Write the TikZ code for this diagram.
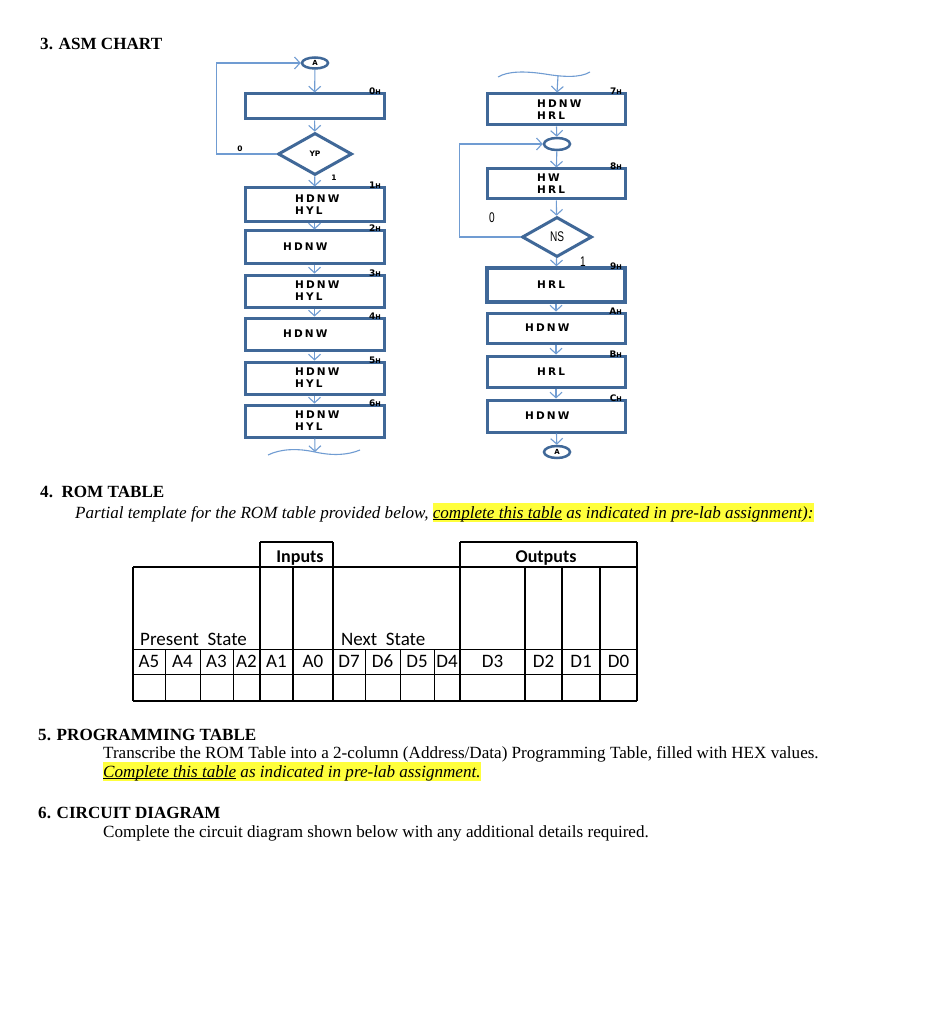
\documentclass[tikz,border=0pt]{standalone}
\usepackage{fontspec}
\setmainfont{Liberation Serif}
\newfontfamily\asmfont[LetterSpace=20]{DejaVu Sans}
\newfontfamily\asmplain{DejaVu Sans}
\newfontfamily\narrowfont[FakeStretch=0.72]{Liberation Sans}
\newfontfamily\calfont{Carlito}
\usetikzlibrary{arrows.meta,shapes.geometric}
\definecolor{boxblue}{RGB}{64,104,152}
\definecolor{lineblue}{RGB}{112,156,210}
\definecolor{hlyellow}{RGB}{255,255,60}
\newcommand\myul[1]{\setbox0\hbox{#1}\rlap{\rule[-2pt]{\wd0}{0.9pt}}\box0{}}
\newcommand\myhl[1]{\setbox0\hbox{#1}\rlap{\textcolor{hlyellow}{\rule[-4pt]{\wd0}{19pt}}}\box0{}}
\tikzset{
  asmbox/.style={draw=boxblue, line width=3pt, minimum width=139pt, inner sep=0pt},
  conn/.style={draw=lineblue, line width=1.1pt, -{Straight Barb[length=5.5pt,width=12pt]}},
  asmtxt/.style={font=\asmfont\bfseries\fontsize{10.5}{12}\selectfont, inner sep=0pt, align=left, anchor=west},
  addr/.style={font=\asmplain\bfseries\fontsize{9}{10}\selectfont, inner sep=0pt, anchor=base east},
  smalllbl/.style={font=\asmplain\bfseries\fontsize{7.5}{9}\selectfont, inner sep=0pt},
  narrowlbl/.style={font=\narrowfont\fontsize{14}{16}\selectfont, inner sep=0pt},
  tthick/.style={draw=black, line width=2pt},
  tthin/.style={draw=black, line width=1pt},
  celltxt/.style={font=\calfont\fontsize{19}{21}\selectfont, inner sep=0pt, anchor=base},
  head/.style={font=\bfseries\fontsize{17.1}{20}\selectfont, inner sep=0pt, anchor=base west},
  body/.style={font=\fontsize{17.1}{20}\selectfont, inner sep=0pt, anchor=base west},
}
\newcommand\hsub[1]{#1{\fontsize{6.5}{7}\selectfont H}}
\begin{document}
\begin{tikzpicture}[x=1pt,y=-1pt]
\fill[white] (0,0) rectangle (927,1024);
\useasboundingbox (0,0) rectangle (927,1024);

% ---------- headings ----------
\node[head] (h3) at (40,50) {3. ASM CHART};

% ---------- left ASM column ----------
\node[ellipse, draw=boxblue, line width=2.5pt, minimum width=26pt, minimum height=11pt, inner sep=0pt, font=\asmplain\bfseries\fontsize{7}{8}\selectfont] (eA) at (315,63) {A};
\node[asmbox, minimum height=25pt] (b0) at (314.5,106.5) {};
\node[diamond, draw=boxblue, line width=3pt, minimum width=74pt, minimum height=42pt, inner sep=0pt, font=\asmplain\bfseries\fontsize{7.5}{8}\selectfont] (d1) at (315,154) {YP};
\node[asmbox, minimum height=34pt] (b1) at (314.5,205) {};
\node[asmbox, minimum height=32pt] (b2) at (314.5,247) {};
\node[asmbox, minimum height=32pt] (b3) at (314.5,291) {};
\node[asmbox, minimum height=32pt] (b4) at (314.5,334) {};
\node[asmbox, minimum height=32pt] (b5) at (314.5,378) {};
\node[asmbox, minimum height=32pt] (b6) at (314.5,421) {};

\node[asmtxt] (t1) at (295,205) {HDNW\\HYL};
\node[asmtxt] (t2) at (283,247) {HDNW};
\node[asmtxt] (t3) at (295,291) {HDNW\\HYL};
\node[asmtxt] (t4) at (283,334) {HDNW};
\node[asmtxt] (t5) at (295,378) {HDNW\\HYL};
\node[asmtxt] (t6) at (295,421) {HDNW\\HYL};

\node[addr] (a0) at (381,95) {\hsub{0}};
\node[addr] (a1) at (381,189) {\hsub{1}};
\node[addr] (a2) at (381,232) {\hsub{2}};
\node[addr] (a3) at (381,276) {\hsub{3}};
\node[addr] (a4) at (381,319) {\hsub{4}};
\node[addr] (a5) at (381,363) {\hsub{5}};
\node[addr] (a6) at (381,406) {\hsub{6}};

\node[smalllbl] (l0) at (240,149) {0};
\node[smalllbl] (l1) at (334,178) {1};

\draw[conn] (eA) -- (b0);
\draw[conn] (b0) -- (d1);
\draw[conn] (d1) -- (b1);
\draw[conn] (b1) -- (b2);
\draw[conn] (b2) -- (b3);
\draw[conn] (b3) -- (b4);
\draw[conn] (b4) -- (b5);
\draw[conn] (b5) -- (b6);
\draw[conn] (d1.west) -- ++(-60,0) |- (eA.west);
\coordinate (w1) at (315,452);
\draw[conn] (b6) -- (w1);
\draw[draw=lineblue, line width=1.1pt] (268,455) .. controls (280,449) and (297,448) .. (315,452) .. controls (333,456) and (348,455) .. (360,450);

% ---------- right ASM column ----------
\coordinate (w2) at (558,76);
\draw[draw=lineblue, line width=1.1pt] (498,77) .. controls (508,71) and (525,71) .. (545,74) .. controls (563,77) and (580,78) .. (590,72);
\node[asmbox, minimum width=138pt, minimum height=31pt] (b7) at (556,109.5) {};
\node[ellipse, draw=boxblue, line width=2.5pt, minimum width=26pt, minimum height=12pt, inner sep=0pt] (e2) at (557,144) {};
\node[asmbox, minimum width=138pt, minimum height=30pt] (b8) at (556,184) {};
\node[diamond, draw=boxblue, line width=3pt, minimum width=70pt, minimum height=40pt, inner sep=0pt, font=\narrowfont\fontsize{14}{16}\selectfont] (d2) at (557,237) {NS};
\node[asmbox, minimum width=138pt, minimum height=34pt, line width=3.5pt] (b9) at (556,285) {};
\node[asmbox, minimum width=138pt, minimum height=30pt] (bA) at (556,328) {};
\node[asmbox, minimum width=138pt, minimum height=31pt] (bB) at (556,371.5) {};
\node[asmbox, minimum width=138pt, minimum height=32pt] (bC) at (556,416) {};
\node[ellipse, draw=boxblue, line width=2.5pt, minimum width=26pt, minimum height=12pt, inner sep=0pt, font=\asmplain\bfseries\fontsize{7}{8}\selectfont] (eB) at (557,452) {A};

\node[asmtxt] (t7) at (537,109.5) {HDNW\\HRL};
\node[asmtxt] (t8) at (537,184) {HW\\HRL};
\node[asmtxt] (t9) at (537,285) {HRL};
\node[asmtxt] (tA) at (525,328) {HDNW};
\node[asmtxt] (tB) at (537,371.5) {HRL};
\node[asmtxt] (tC) at (525,416) {HDNW};

\node[addr] (a7) at (622,95) {\hsub{7}};
\node[addr] (a8) at (622,170) {\hsub{8}};
\node[addr] (a9) at (622,269) {\hsub{9}};
\node[addr] (aA) at (622,314) {\hsub{A}};
\node[addr] (aB) at (622,357) {\hsub{B}};
\node[addr] (aC) at (622,401) {\hsub{C}};

\node[narrowlbl] (r0) at (492,218) {0};
\node[narrowlbl] (r1) at (583,262) {1};

\draw[conn] (w2) -- (b7);
\draw[conn] (b7) -- (e2);
\draw[conn] (e2) -- (b8);
\draw[conn] (b8) -- (d2);
\draw[conn] (d2) -- (b9);
\draw[conn] (b9) -- (bA);
\draw[conn] (bA) -- (bB);
\draw[conn] (bB) -- (bC);
\draw[conn] (bC) -- (eB);
\draw[conn] (d2.west) -- ++(-61,0) |- (e2.west);

% ---------- ROM table ----------
\node[head] (h4) at (40,497) {4.\ \ ROM TABLE};
\node[body] (p4) at (75,518) {\itshape Partial template for the ROM table provided below, \myhl{\myul{complete this table} as indicated in pre-lab assignment):}};

\draw[tthick] (260,542) -- (333,542);
\draw[tthick] (460,542) -- (637,542);
\draw[tthick] (133,567) -- (637,567);
\draw[tthin] (133,649) -- (637,649);
\draw[tthin] (133,674) -- (637,674);
\draw[tthick] (133,701) -- (637,701);
\foreach \x in {133,293,525,562,600} \draw[tthick] (\x,567) -- (\x,701);
\foreach \x in {260,333,460,637} \draw[tthick] (\x,542) -- (\x,701);
\foreach \x in {165,200,233,365,400,434} \draw[tthin] (\x,649) -- (\x,701);

\node[celltxt, font=\calfont\bfseries\fontsize{18}{20}\selectfont] (tin) at (300,562) {Inputs};
\node[celltxt, font=\calfont\bfseries\fontsize{18}{20}\selectfont] (tout) at (546,562) {Outputs};
\node[celltxt, anchor=base west] (tps) at (140,645) {Present\ \ State};
\node[celltxt, anchor=base west] (tns) at (341,645) {Next\ \ State};
\foreach \t/\x in {A5/149, A4/182.5, A3/216.5, A2/246.5, A1/276.5, A0/313, D7/349, D6/382.5, D5/417, D4/447, D3/492.5, D2/543.5, D1/581, D0/618.5}
  \node[celltxt] (c\t) at (\x,667) {\t};

% ---------- sections 5 and 6 ----------
\node[head] (h5) at (38,740) {5. PROGRAMMING TABLE};
\node[body] (p5a) at (103,758) {Transcribe the ROM Table into a 2-column (Address/Data) Programming Table, filled with HEX values.};
\node[body] (p5b) at (103,777) {\itshape\myhl{\myul{Complete this table} as indicated in pre-lab assignment.}};
\node[head] (h6) at (38,818) {6. CIRCUIT DIAGRAM};
\node[body] (p6) at (103,837) {Complete the circuit diagram shown below with any additional details required.};
\end{tikzpicture}
\end{document}
